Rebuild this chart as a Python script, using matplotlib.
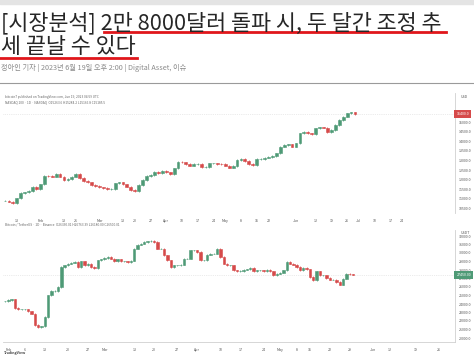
import numpy as np
import matplotlib.pyplot as plt
from matplotlib.patches import Rectangle

plt.rcParams['font.family'] = ['Noto Sans CJK KR', 'DejaVu Sans']

W, H = 474, 357

# ---------------- data ----------------
title_line1 = "[시장분석] 2만 8000달러 돌파 시, 두 달간 조정 추"
title_line2 = "세 끝날 수 있다"
byline = "정아인 기자 | 2023년 6월 19일 오후 2:00 | Digital Asset, 이슈"

# upper pane (daily closes)
top_close = [10900, 10850, 10760, 11020, 11290, 11340, 11410, 11630, 11510, 11750,
             12200, 12190, 12150, 12290, 12150, 11980, 12030, 12150, 12290, 12070,
             11940, 11860, 11720, 11670, 11600, 11550, 11510, 11510, 11800, 11860,
             11750, 11630, 11460, 11410, 11720, 11980, 12200, 12240, 12410, 12330,
             12450, 12380, 12290, 12590, 12930, 12900, 12800, 12730, 12800, 12800,
             12670, 12670, 12850, 12850, 12810, 12800, 12730, 12620, 12710, 13020,
             13070, 12970, 12810, 12760, 13060, 13070, 13140, 13190, 13230, 13370,
             13720, 13800, 13840, 13720, 13890, 14410, 14500, 14410, 14360, 14670,
             14720, 14710, 14460, 14580, 14840, 15100, 15280, 15450, 15500, 15400]
top_yticks = [15000, 14500, 14000, 13500, 13000, 12500, 12000, 11500, 11000, 10500]
top_xticks = [3, 9, 15, 18, 24, 30, 33, 37, 41, 45, 49, 53, 56, 60, 64, 67, 74, 79, 83, 87, 90, 94, 98, 101]
top_xlabels = ['13', 'Feb', '13', '21', 'Mar', '13', '20', '27', 'Apr', '10', '17', '24', 'May', '8', '15', '22',
               'Jun', '12', '19', '26', 'Jul', '10', '17', '24']

# lower pane (daily closes)
low_close = [24320, 24440, 24550, 23530, 23380, 23380, 23380, 23140, 22870, 21500,
             21300, 21380, 22480, 25020, 25500, 25500, 26000, 28360, 28550, 28750,
             28870, 28940, 28360, 29020, 28550, 28750, 28360, 28240, 29140, 29260,
             29410, 29530, 29340, 29020, 29260, 29020, 29020, 28940, 29100, 30510,
             30980, 31100, 31300, 31370, 31410, 31300, 30510, 30510, 29730, 29140,
             28360, 28550, 28550, 28630, 29340, 29340, 30320, 30320, 30120, 29140,
             29140, 29810, 29920, 29920, 30510, 29530, 28750, 28550, 28550, 27960,
             27850, 27890, 28040, 28080, 28240, 27890, 27960, 27960, 27850, 28040,
             27850, 27380, 27570, 27690, 27960, 28940, 28750, 28630, 28360, 27960,
             28240, 28080, 27180, 26790, 27850, 27380, 27380, 27060, 26870, 26870,
             26590, 26280, 26980, 27570, 27490, 27450]
low_yticks = [32000, 31000, 30000, 29000, 28000, 27000, 26000, 25000, 24000, 23000, 22000, 21000, 20000]
low_xticks = [1, 6, 12, 19, 25, 30, 39, 45, 52, 58, 65, 71, 78, 83, 88, 92, 98, 104, 111, 116, 124, 131]
low_xlabels = ['Feb', '6', '13', '20', '27', 'Mar', '13', '20', '27', 'Apr', '10', '17', '24', 'May',
               '8', '15', '22', '29', 'Jun', '12', '19', '26']

GREEN = '#4e9a76'
RED = '#d64a4a'


def fx(x):
    return x / W


def fy(y):
    return 1 - y / H


def draw_candles(ax, closes, width, wick):
    closes = np.array(closes, dtype=float)
    opens = np.concatenate(([closes[0]], closes[:-1]))
    idx = np.arange(len(closes))
    up = closes >= opens
    cols = np.where(up, GREEN, RED)
    lo = np.minimum(opens, closes)
    hi = np.maximum(opens, closes)
    ax.vlines(idx, lo - wick, hi + wick, colors=cols, linewidth=0.5, zorder=2)
    ax.bar(idx, hi - lo, width=width, bottom=lo, color=cols, edgecolor=cols,
           linewidth=0.4, zorder=3)
    return closes[-1], up[-1]


def setup_pane(ax, yticks, xticks, xlabels):
    for s in ax.spines.values():
        s.set_visible(False)
    ax.spines['right'].set_visible(True)
    ax.spines['right'].set_color('#d0d0d0')
    ax.spines['right'].set_linewidth(0.6)
    ax.yaxis.tick_right()
    ax.set_yticks(yticks, [f"{v:.1f}" for v in yticks])
    ax.set_xticks(xticks, xlabels)
    ax.tick_params(axis='y', length=0, pad=3, labelsize=2.6, labelcolor='#555555')
    ax.tick_params(axis='x', length=0, pad=4, labelsize=2.6, labelcolor='#555555')
    ax.set_facecolor('white')


fig = plt.figure(figsize=(W / 100, H / 100), dpi=100)

# top gray strip
fig.patches.append(Rectangle((0, fy(4)), 1, 4 / H, transform=fig.transFigure,
                             color='#e4e4e4', zorder=0))

# title
fig.text(fx(1), fy(29), title_line1, fontsize=15.7, color='#262626', va='baseline', ha='left',
         fontweight='light')
fig.text(fx(1), fy(53), title_line2, fontsize=15.7, color='#262626', va='baseline', ha='left',
         fontweight='light')
fig.lines.append(plt.Line2D([fx(104), fx(446)], [fy(31.5), fy(31.5)], transform=fig.transFigure,
                            color='#e0161b', linewidth=2))
fig.lines.append(plt.Line2D([fx(0), fx(137)], [fy(57.5), fy(57.5)], transform=fig.transFigure,
                            color='#e0161b', linewidth=2))
fig.text(fx(1), fy(70), byline, fontsize=5.2, color='#8a8a8a', va='baseline', ha='left')
fig.lines.append(plt.Line2D([0, 1], [fy(83), fy(83)], transform=fig.transFigure,
                            color='#9a9a9a', linewidth=0.8))

# ---------------- upper pane ----------------
t_top, t_bot, left, right = 93, 213, 3, 455
ax1 = fig.add_axes([fx(left), fy(t_bot), fx(right - left), (t_bot - t_top) / H])
last1, up1 = draw_candles(ax1, top_close, 0.72, 40)
sp1 = 350 / (len(top_close) - 1)
ax1.set_xlim(-2 / sp1, len(top_close) - 1 + 100 / sp1)
ax1.set_ylim(15000 - (t_bot - 122) / 9.6 * 500, 15000 + (122 - t_top) / 9.6 * 500)
setup_pane(ax1, top_yticks, top_xticks, top_xlabels)
ax1.axhline(last1, color='#d8d8d8', linewidth=0.5, linestyle=':', zorder=1)
ax1.text(1.003, last1, f"{last1:.1f}", transform=ax1.get_yaxis_transform(), fontsize=2.6,
         color='white', va='center', ha='left',
         bbox=dict(boxstyle='square,pad=0.6', fc=GREEN if up1 else RED, ec='none'))
ax1.text(0.004, 0.985, "bitcoin7 published on TradingView.com, Jun 19, 2023 04:59 UTC",
         transform=ax1.transAxes, fontsize=2.3, color='#666666', va='top')
ax1.text(0.004, 0.94, "NASDAQ 100 · 1D · NASDAQ  O15263.6 H15284.2 L15166.8 C15185.5",
         transform=ax1.transAxes, fontsize=2.3, color='#666666', va='top')
ax1.text(1.012, 0.985, "USD", transform=ax1.transAxes, fontsize=2.6, color='#555555', va='top')

# ---------------- lower pane ----------------
b_top, b_bot = 230, 342
ax2 = fig.add_axes([fx(left), fy(b_bot), fx(right - left), (b_bot - b_top) / H])
last2, up2 = draw_candles(ax2, low_close, 0.72, 90)
sp2 = 348 / (len(low_close) - 1)
ax2.set_xlim(-2 / sp2, len(low_close) - 1 + 102 / sp2)
ax2.set_ylim(32000 - (b_bot - 236) / 8.5 * 1000, 32000 + (236 - b_top) / 8.5 * 1000)
setup_pane(ax2, low_yticks, low_xticks, low_xlabels)
ax2.spines['bottom'].set_visible(True)
ax2.spines['bottom'].set_color('#d0d0d0')
ax2.spines['bottom'].set_linewidth(0.6)
ax2.axhline(last2, color='#d8d8d8', linewidth=0.5, linestyle=':', zorder=1)
ax2.text(1.003, last2, f"{last2:.2f}", transform=ax2.get_yaxis_transform(), fontsize=2.6,
         color='white', va='center', ha='left',
         bbox=dict(boxstyle='square,pad=0.6', fc=GREEN, ec='none'))
ax2.text(0.004, 1.03, "Bitcoin / TetherUS · 1D · Binance  O26330.01 H26763.39 L26180.00 C26500.01",
         transform=ax2.transAxes, fontsize=2.3, color='#666666', va='bottom')
ax2.text(1.012, 0.99, "USDT", transform=ax2.transAxes, fontsize=2.6, color='#555555', va='top')
fig.text(fx(4), fy(354), "TradingView", fontsize=2.6, color='#444444', va='baseline', fontweight='bold')

fig.savefig("out.png", dpi=100)
